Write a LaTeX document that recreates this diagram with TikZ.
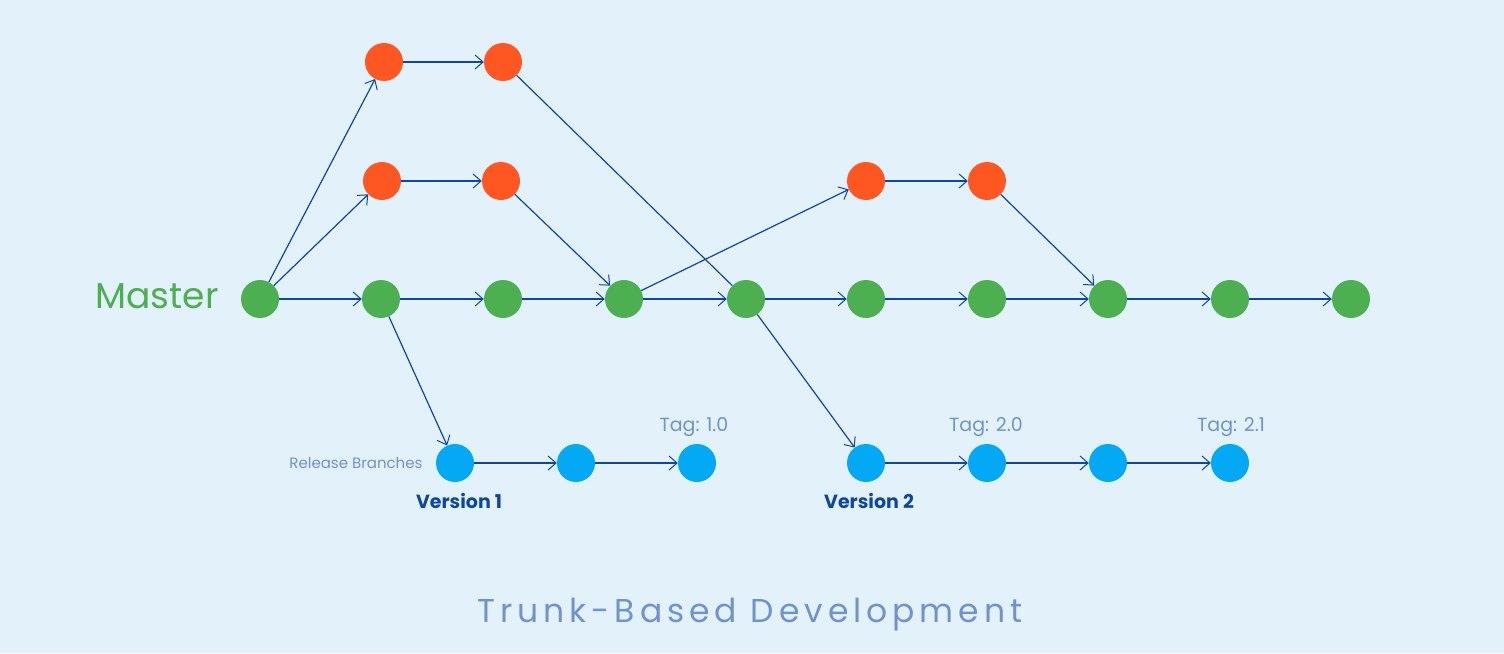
\documentclass[tikz,border=0pt]{standalone}
\usepackage{fontspec}
\setmainfont{Poppins}
\usetikzlibrary{arrows.meta}
\definecolor{bg}{HTML}{E3F1FB}
\definecolor{gr}{HTML}{4CAF50}
\definecolor{orn}{HTML}{FF5722}
\definecolor{blu}{HTML}{03A9F4}
\definecolor{ln}{HTML}{0D47A1}
\definecolor{lt}{HTML}{6F93CC}
\begin{document}
\begin{tikzpicture}[x=1pt,y=-1pt,
  dot/.style={circle,minimum size=38pt,inner sep=0pt},
  gd/.style={dot,fill=gr},od/.style={dot,fill=orn},bd/.style={dot,fill=blu},
  ar/.style={draw=ln,line width=1.2pt,-{Straight Barb[length=8pt,width=14pt,line width=1pt]}},
  pl/.style={draw=ln,line width=1.2pt},
  tag/.style={font=\fontsize{19pt}{22pt}\selectfont,text=lt},
  ver/.style={font=\fontsize{19pt}{22pt}\selectfont\bfseries,text=ln}]
\fill[bg] (0,0) rectangle (1504,653);
\foreach \n/\x in {0/260,1/381,2/503,3/624,4/746,5/866,6/987,7/1108,8/1230,9/1351}
  \node[gd] (m\n) at (\x,299) {};
\node[od] (a1) at (384,62) {}; \node[od] (a2) at (503,62) {};
\node[od] (b1) at (382,181) {}; \node[od] (b2) at (501,181) {};
\node[od] (c1) at (866,181) {}; \node[od] (c2) at (987,181) {};
\node[bd] (r1) at (455,463) {}; \node[bd] (r2) at (576,463) {}; \node[bd] (r3) at (697,463) {};
\node[bd] (s1) at (866,463) {}; \node[bd] (s2) at (987,463) {}; \node[bd] (s3) at (1108,463) {}; \node[bd] (s4) at (1230,463) {};
\foreach \a/\b in {m0/m1,m1/m2,m2/m3,m3/m4,m4/m5,m5/m6,m6/m7,m7/m8,m8/m9,
  m0/a1,a1/a2,m0/b1,b1/b2,b2/m3,m3/c1,c1/c2,c2/m7,m1/r1,r1/r2,r2/r3,m4/s1,s1/s2,s2/s3,s3/s4}
  \path[ar] (\a) -- (\b);
\path[pl] (a2) -- (m4);
\node[font=\fontsize{36pt}{40pt}\selectfont,text=gr] (mt) at (157,296) {Master};
\node[font=\fontsize{15pt}{18pt}\selectfont,text=lt,anchor=east] (rb) at (426,463) {Release Branches};
\node[tag] (t1) at (694,427) {Tag: 1.0};
\node[tag] (t2) at (986,427) {Tag: 2.0};
\node[tag] (t3) at (1231,427) {Tag: 2.1};
\node[ver] (v1) at (459,501) {Version 1};
\node[ver] (v2) at (869,501) {Version 2};
\node[font=\fontsize{33pt}{38pt}\selectfont\addfontfeature{LetterSpace=15},text=lt] (ti) at (750,615) {Trunk-Based Development};
\end{tikzpicture}
\end{document}
